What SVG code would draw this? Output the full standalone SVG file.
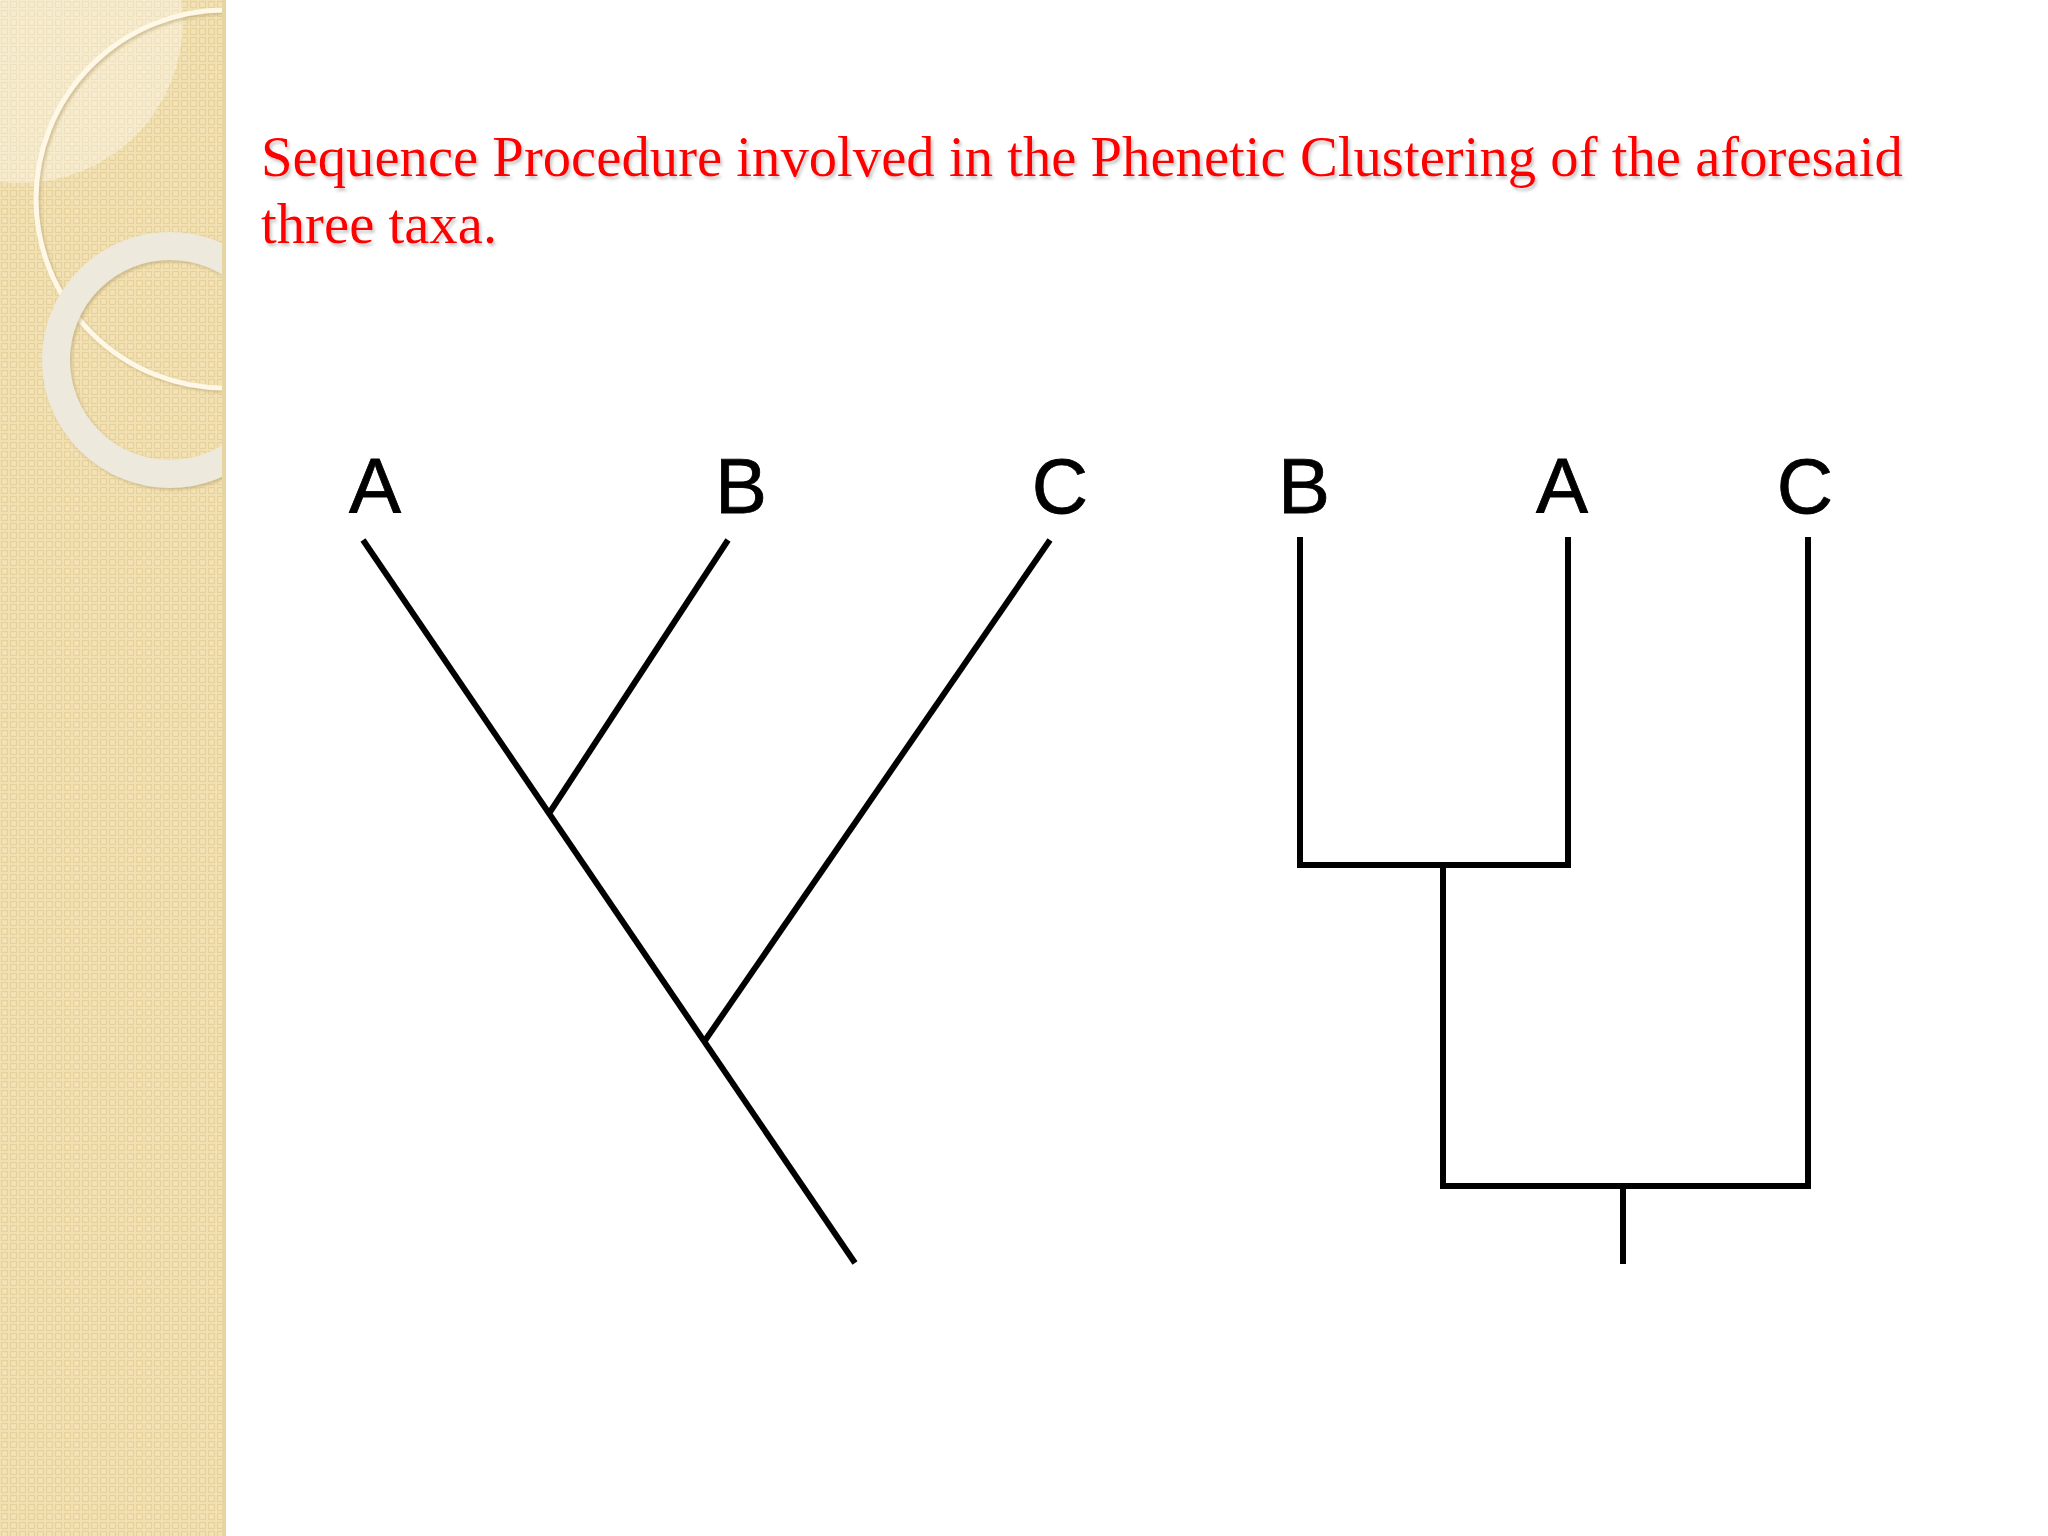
<svg xmlns="http://www.w3.org/2000/svg" width="2048" height="1536" viewBox="0 0 2048 1536">
  <defs>
    <pattern id="chk" x="0" y="0" width="9" height="9" patternUnits="userSpaceOnUse">
      <rect width="9" height="9" fill="#F3E2B4"/>
      <rect x="1.5" y="1.5" width="6" height="6" fill="none" stroke="#E6D19C" stroke-width="1.2"/>
    </pattern>
    <clipPath id="band">
      <rect x="0" y="0" width="226" height="1536"/>
    </clipPath>
    <filter id="shadow" x="-5%" y="-20%" width="110%" height="140%">
      <feDropShadow dx="2" dy="3" stdDeviation="1.5" flood-color="#888888" flood-opacity="0.45"/>
    </filter>
    <filter id="soft" x="-10%" y="-10%" width="120%" height="120%">
      <feDropShadow dx="2" dy="2" stdDeviation="1.5" flood-color="#B09A66" flood-opacity="0.5"/>
    </filter>
  </defs>
  <style>
    .title { font-family: "Liberation Serif", "Times New Roman", serif; font-size: 56.7px; fill: #FF0000; }
    .lbl { font-family: "Liberation Sans", Arial, sans-serif; font-size: 78px; fill: #000000; text-anchor: middle; stroke: #000000; stroke-width: 0.8; }
    .edge { stroke: #000000; stroke-width: 6; fill: none; stroke-linecap: butt; }
    .sq { stroke: #000000; stroke-width: 6; fill: none; stroke-linecap: square; stroke-linejoin: miter; }
  </style>

  <rect x="0" y="0" width="2048" height="1536" fill="#FFFFFF"/>

  <g id="sidebar" clip-path="url(#band)">
    <rect x="0" y="0" width="226" height="1536" fill="url(#chk)"/>
    <circle cx="21" cy="21" r="162" fill="#FFFFFF" fill-opacity="0.35"/>
    <circle cx="225" cy="199" r="189" fill="none" stroke="#FFF8E6" stroke-width="5" filter="url(#soft)"/>
    <circle cx="170" cy="360" r="114" fill="none" stroke="#EDE9DD" stroke-width="28" filter="url(#soft)"/>
    <rect x="222" y="0" width="4" height="1536" fill="#E6D4A2"/>
  </g>

  <g id="title" filter="url(#shadow)">
    <text class="title" x="261" y="176">Sequence Procedure involved in the Phenetic Clustering of the aforesaid</text>
    <text class="title" x="261" y="243">three taxa.</text>
  </g>

  <g id="left-tree">
    <g id="L-A"><text class="lbl" x="375" y="513">A</text></g>
    <g id="L-B"><text class="lbl" x="741" y="513">B</text></g>
    <g id="L-C"><text class="lbl" x="1060" y="513">C</text></g>
  </g>

  <g id="right-tree">
    <g id="R-B"><text class="lbl" x="1304" y="513">B</text></g>
    <g id="R-A"><text class="lbl" x="1562" y="513">A</text></g>
    <g id="R-C"><text class="lbl" x="1805" y="513">C</text></g>
  </g>

  <g id="connectors">
    <path class="edge" d="M363,540 L855,1263"/>
    <path class="edge" d="M728,540 L550,812"/>
    <path class="edge" d="M1050,540 L704,1042"/>
    <path class="sq" d="M1300,540 V865 H1568 V540"/>
    <path class="sq" d="M1443,865 V1186 H1808 V540"/>
    <path class="edge" d="M1623,1186 V1264"/>
  </g>
</svg>
